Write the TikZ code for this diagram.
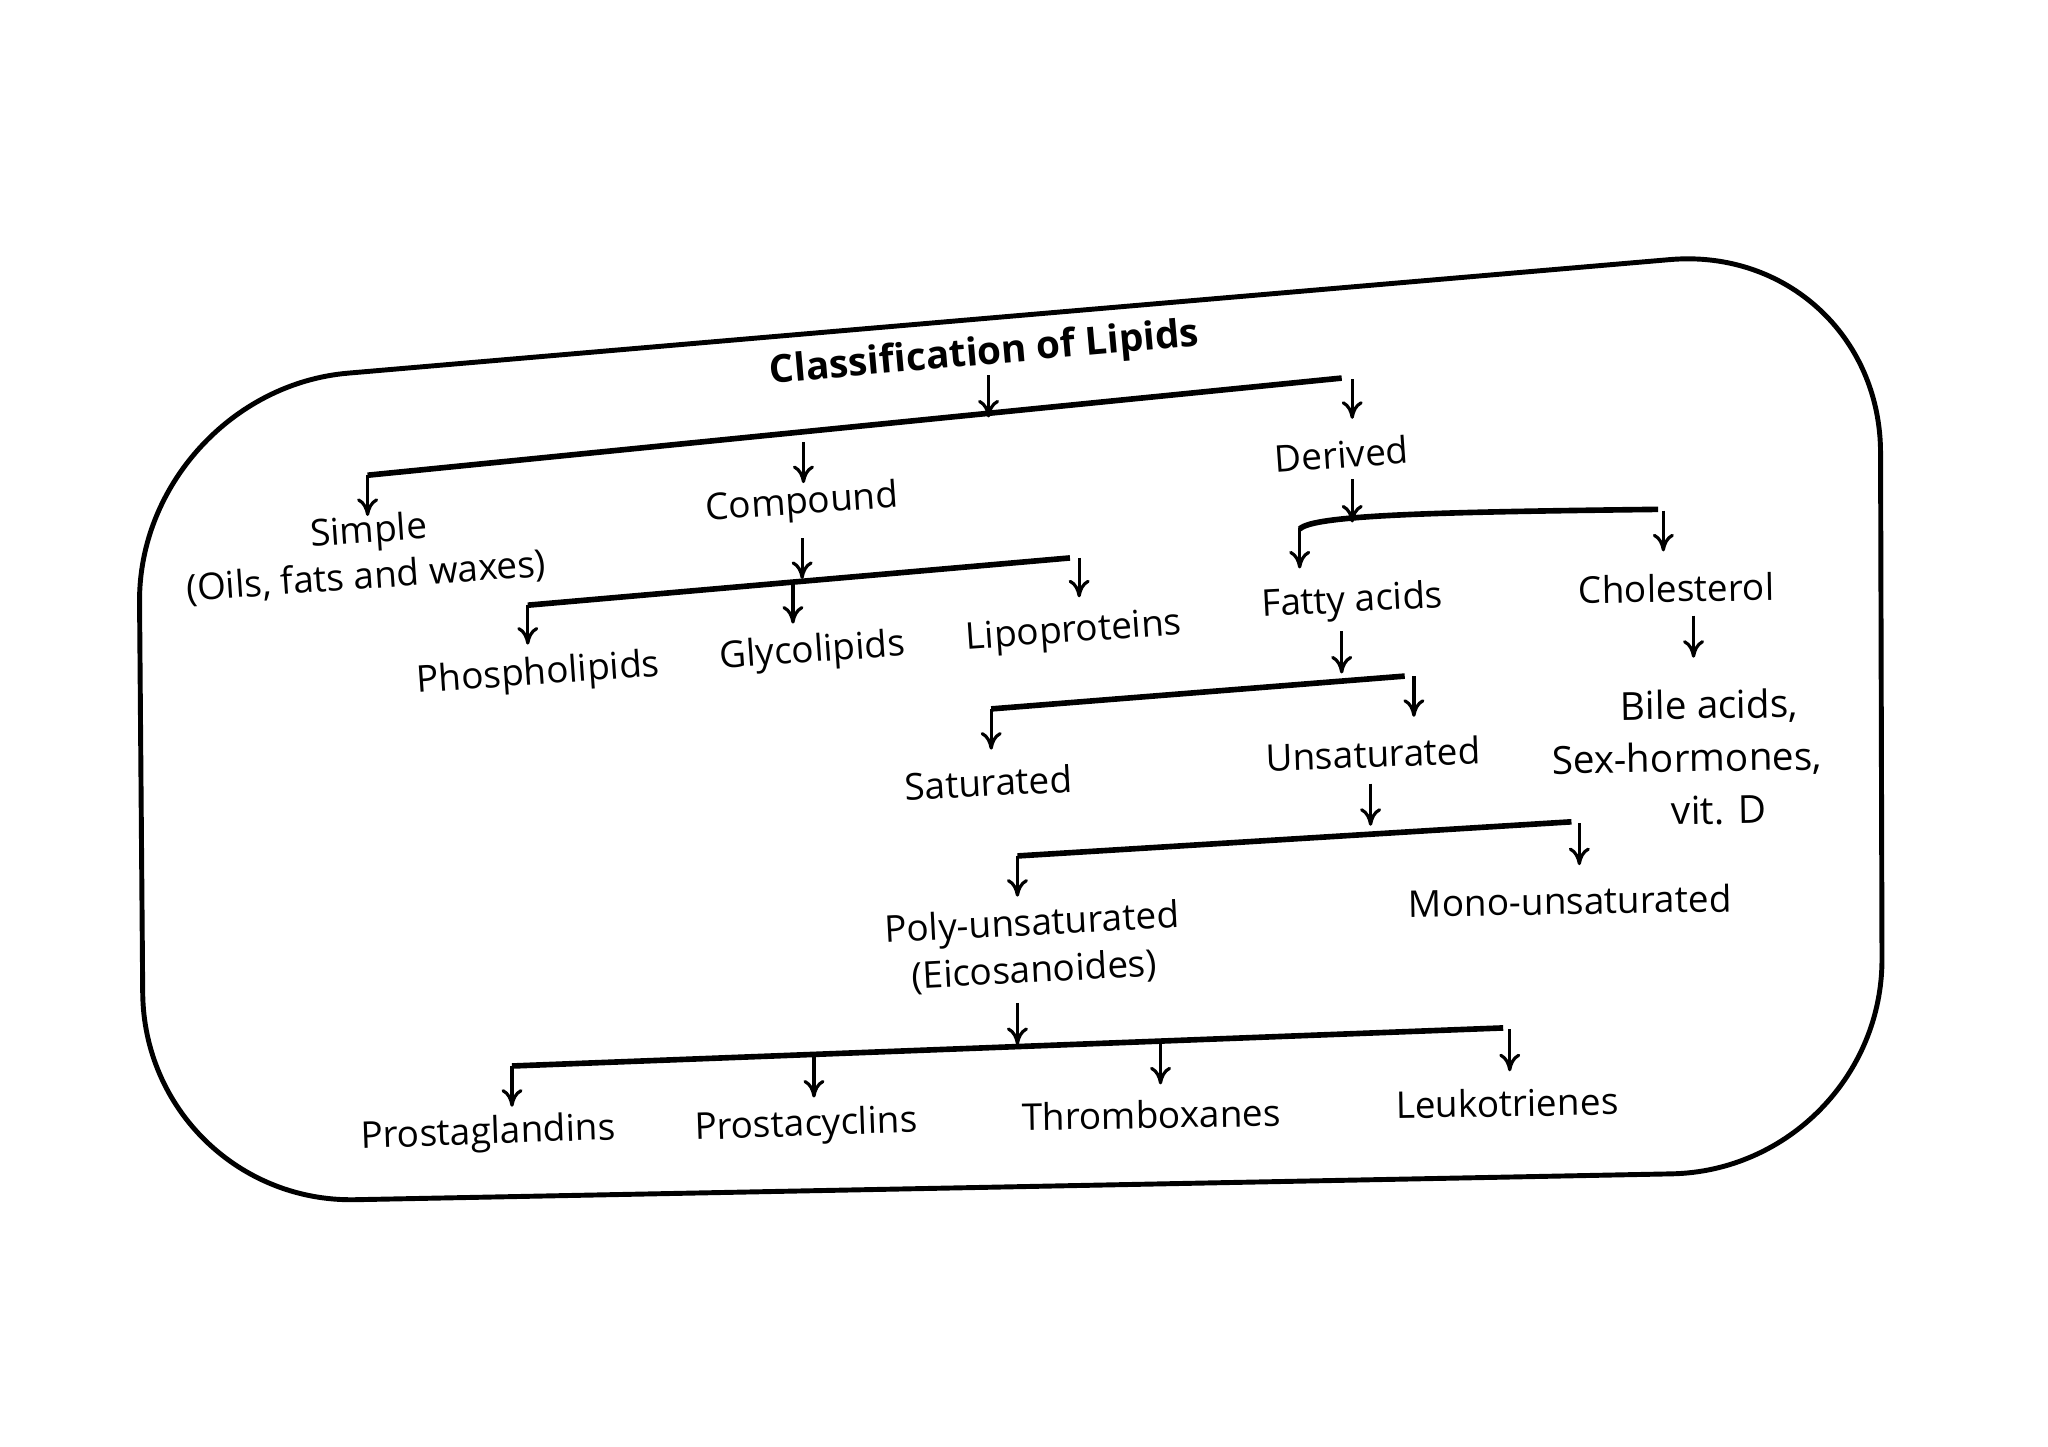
\documentclass[tikz,border=0pt]{standalone}
\usepackage{fontspec}
\setmainfont{Open Sans}
\usetikzlibrary{arrows.meta}
\begin{document}
\begin{tikzpicture}[x=0.01313cm, y=-0.01313cm,
    every node/.style={font=\fontsize{10.5}{13.5}\selectfont, inner sep=1pt},
    lab/.style={rotate=#1},
    lab/.default=3,
    title/.style={font=\fontsize{11}{13}\selectfont\bfseries, rotate=5},
    bar/.style={line width=1.6pt},
    arr/.style={-{To[length=5pt,width=6pt]}, line width=0.9pt},
]
\useasboundingbox (0,0) rectangle (1560,1102);
% frame
\draw[line width=1.4pt, rounded corners=60] (110,917) -- (105,298) -- (1432,184) -- (1434,891) -- cycle;
% title level
\node[title] (title) at (750,270) {Classification of Lipids};
\draw[arr] (753,286) -- (753,318);
\draw[bar] (280,362) -- (1022,288);
\draw[arr] (280,362) -- (280,393);
\draw[arr] (612,337) -- (612,368);
\draw[arr] (1030,289) -- (1030,319);
\node[lab=4] (simple) at (281,406) {Simple};
\node[lab=4] (simplex) at (279,440) {(Oils, fats and waxes)};
\node[lab=4] (compound) at (611,384) {Compound};
\node[lab=4] (derived) at (1022,346) {Derived};
% compound
\draw[arr] (compound) ++(0,26) -- ++(0,31);
\draw[bar] (402,461) -- (815,425);
\draw[arr] (402,461) -- (402,491);
\draw[arr] (604,444) -- (604,475);
\draw[arr] (822,425) -- (822,455);
\node[lab=4] (phospho) at (410,514) {Phospholipids};
\node[lab=4] (glyco) at (619,497) {Glycolipids};
\node[lab=4] (lipo) at (818,482) {Lipoproteins};
% derived
\draw[arr] (1030,365) -- (1030,398);
\draw[bar] (990,403) .. controls (1000,392) and (1100,390) .. (1263,388);
\draw[arr] (990,402) -- (990,433);
\draw[arr] (1267,389) -- (1267,420);
\node[lab=3] (fatty) at (1030,459) {Fatty acids};
\node[lab=1] (chol) at (1277,448) {Cholesterol};
\draw[arr] (1290,469) -- (1290,501);
\node[lab=1, align=center, font=\fontsize{11}{15}\selectfont] (bile) at (1285,577) {\hspace*{1.2em}Bile acids,\\Sex-hormones,\\\hspace*{1.6em}vit. D};
% fatty acids
\draw[arr] (1022,481) -- (1022,513);
\draw[bar] (755,540) -- (1070,515);
\draw[arr] (755,540) -- (755,571);
\draw[arr] (1077,515) -- (1077,546);
\node[lab=3] (sat) at (753,596) {Saturated};
\node[lab=2] (unsat) at (1046,574) {Unsaturated};
\draw[arr] (1044,597) -- (1044,629);
\draw[bar] (775,652) -- (1197,626);
\draw[arr] (775,652) -- (775,683);
\draw[arr] (1203,627) -- (1203,659);
\node[lab=3, align=center] (poly) at (787,722) {Poly-unsaturated\\(Eicosanoides)};
\node[lab=1] (mono) at (1196,686) {Mono-unsaturated};
% eicosanoides
\draw[arr] (775,764) -- (775,796);
\draw[bar] (390,812) -- (1145,783);
\draw[arr] (390,812) -- (390,843);
\draw[arr] (620,804) -- (620,836);
\draw[arr] (884,794) -- (884,826);
\draw[arr] (1150,784) -- (1150,816);
\node[lab=2] (pg) at (372,864) {Prostaglandins};
\node[lab=2] (pc) at (614,858) {Prostacyclins};
\node[lab=1] (tx) at (877,849) {Thromboxanes};
\node[lab=1] (lt) at (1148,840) {Leukotrienes};
\end{tikzpicture}
\end{document}
